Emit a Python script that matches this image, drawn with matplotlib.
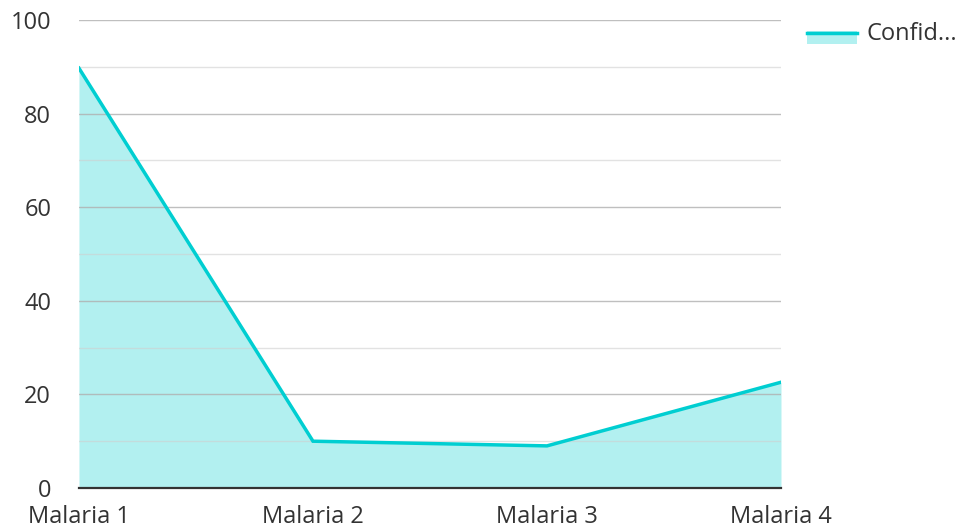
import numpy as np
import matplotlib.pyplot as plt
from matplotlib.patches import Rectangle
from matplotlib.lines import Line2D

plt.rcParams['font.family'] = ['Open Sans', 'DejaVu Sans']

# 数据
categories = ['Malaria 1', 'Malaria 2', 'Malaria 3', 'Malaria 4']
values = [89.7, 10.0, 9.0, 22.6]
series_name = 'Confid...'

line_color = '#00ced1'
fill_color = '#b2f0f0'

fig = plt.figure(figsize=(9.63, 5.29), dpi=100)
ax = fig.add_axes([0.082, 0.0775, 0.729, 0.8847])

x = np.arange(len(categories))
ax.fill_between(x, 0, values, color=fill_color, zorder=1, linewidth=0)
ax.plot(x, values, color=line_color, linewidth=2.5, zorder=3, solid_joinstyle='miter')

# 网格线
for v in range(10, 101, 10):
    if v % 20 == 0:
        ax.axhline(v, color='#b0b0b0', linewidth=1, alpha=0.8, zorder=2)
    else:
        ax.axhline(v, color='#d0d0d0', linewidth=1, alpha=0.6, zorder=2)
ax.axhline(0, color='#333333', linewidth=1.6, zorder=4, clip_on=False)

ax.set_xlim(0, len(categories) - 1)
ax.set_ylim(0, 100)
ax.set_yticks(range(0, 101, 20))
ax.set_xticks(x)
ax.set_xticklabels(categories)
ax.tick_params(axis='both', length=0, labelsize=17, labelcolor='#333333')
ax.tick_params(axis='y', pad=20)
ax.tick_params(axis='x', pad=12)
for s in ax.spines.values():
    s.set_visible(False)

# 图例
fig.add_artist(Rectangle((807 / 963, 1 - 44 / 529), 50 / 963, 13 / 529,
                         transform=fig.transFigure, color=fill_color, linewidth=0))
fig.add_artist(Line2D([807 / 963, 857 / 963], [1 - 33 / 529, 1 - 33 / 529],
                      transform=fig.transFigure, color=line_color, linewidth=2.5))
fig.text(866 / 963, 1 - 34 / 529, series_name, fontsize=17, color='#333333',
         va='center', ha='left')

fig.savefig('out.png', dpi=100)
